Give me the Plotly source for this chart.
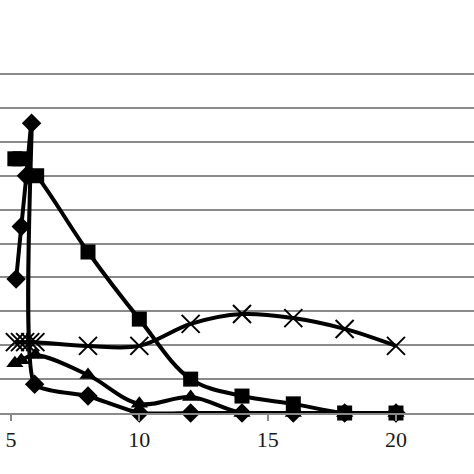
import plotly.graph_objects as go

# Series data
diamond_x = [5.2, 5.4, 5.6, 5.8, 5.92, 8, 10, 12, 14, 16, 18, 20]
diamond_y = [3.95, 5.5, 7.0, 8.55, 0.85, 0.5, 0.0, 0.0, 0.0, 0.0, 0.0, 0.0]

square_x = [5.15, 5.35, 6.0, 8, 10, 12, 14, 16, 18, 20]
square_y = [7.5, 7.5, 7.0, 4.75, 2.77, 1.0, 0.5, 0.27, 0.0, 0.0]

triangle_x = [5.15, 5.4, 5.95, 8, 10, 12, 14, 16, 18, 20]
triangle_y = [1.47, 1.56, 1.71, 1.12, 0.27, 0.47, 0.0, 0.0, 0.0, 0.0]

cross_x = [5.15, 5.35, 5.55, 5.75, 5.95, 8, 10, 12, 14, 16, 18, 20]
cross_y = [2.09, 2.09, 2.09, 2.09, 2.09, 1.98, 1.98, 2.63, 2.92, 2.8, 2.48, 1.98]

x_ticks = [5, 10, 15, 20]
x_tick_labels = ["5", "10", "15", "20"]
y_grid = list(range(0, 11))

fig = go.Figure()

def add(xs, ys, symbol, size, mline=0, smoothing=1.0):
    fig.add_trace(go.Scatter(
        x=xs, y=ys, mode="lines+markers",
        line=dict(color="black", width=4, shape="spline", smoothing=smoothing),
        marker=dict(symbol=symbol, size=size, color="black",
                    line=dict(color="black", width=mline)),
        showlegend=False, cliponaxis=False,
    ))

add(cross_x, cross_y, "x-thin", 18, 2)
add(triangle_x, triangle_y, "triangle-up", 15)
add(diamond_x, diamond_y, "diamond", 15, smoothing=0.5)
add(square_x, square_y, "square", 15)

fig.update_layout(
    width=474, height=474,
    margin=dict(l=0, r=0, t=70, b=61),
    paper_bgcolor="white", plot_bgcolor="white",
    font=dict(family="Liberation Serif, Times New Roman, serif", color="#1a1a1a", size=22),
)
fig.update_xaxes(
    range=[4.571, 23.04],
    tickvals=x_ticks, ticktext=x_tick_labels,
    showgrid=False, zeroline=False,
    showline=True, linecolor="#8a8a8a", linewidth=1.5,
    ticks="outside", ticklen=6, tickcolor="#8a8a8a", tickwidth=1.5,
)
fig.update_yaxes(
    range=[0, 10.12],
    tickvals=y_grid, showticklabels=False,
    showgrid=True, gridcolor="#8a8a8a", gridwidth=1.5,
    zeroline=False, showline=False,
)

fig.write_html("out.html", config={"displayModeBar": False},
               post_script="document.body.style.margin='0';")
